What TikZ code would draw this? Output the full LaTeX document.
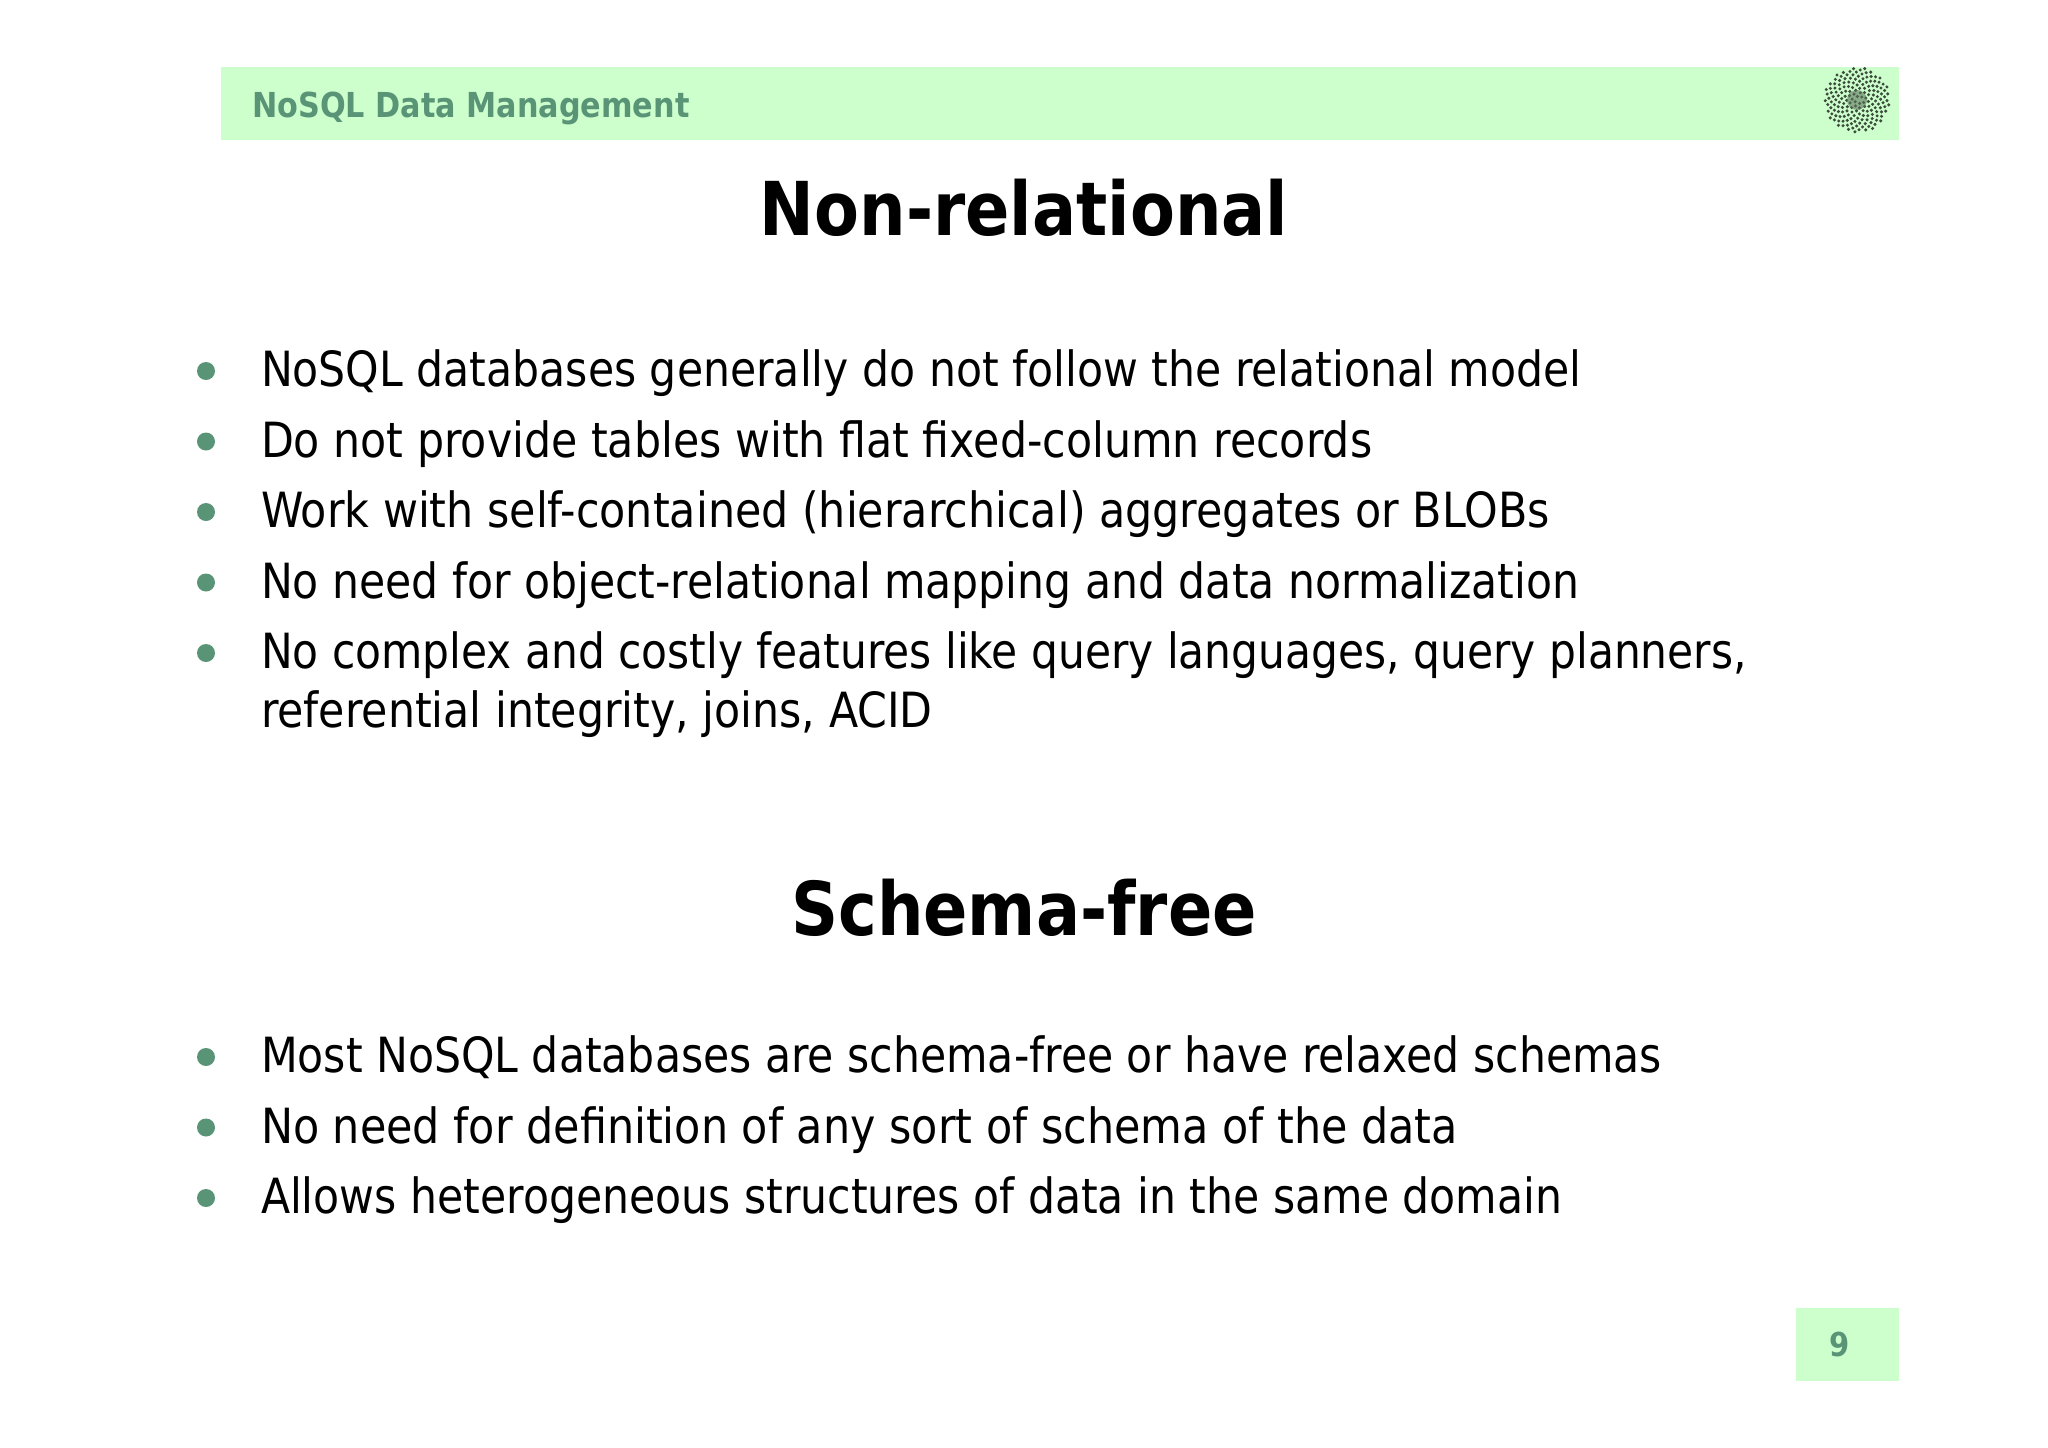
\documentclass[tikz,border=0pt]{standalone}
\usepackage{graphicx}
\usepackage{fontspec}
\setmainfont{DejaVu Sans}[FakeStretch=0.88]
\newfontfamily\bodyfont{DejaVu Sans}[FakeStretch=0.88]
\newfontfamily\headfont{DejaVu Sans Bold}[FakeStretch=0.88]
\definecolor{bandgreen}{HTML}{CCFFCC}
\definecolor{labelgreen}{HTML}{5A9477}
\tikzset{
  x=1pt,y=-1pt,
  band/.style={fill=bandgreen,draw=none},
  body/.style={anchor=base west,inner sep=0pt,outer sep=0pt,text=black,font=\bodyfont\fontsize{48.5}{50}\selectfont},
  title/.style={anchor=base,inner sep=0pt,text=black,font=\headfont\fontsize{74.3}{76}\selectfont},
  header/.style={anchor=base west,inner sep=0pt,text=labelgreen,font=\headfont\fontsize{34.4}{38}\selectfont},
  pagenum/.style={anchor=base,inner sep=0pt,text=labelgreen,font=\headfont\fontsize{33}{36}\selectfont},
  bulletdot/.style={circle,fill=labelgreen,draw=none,minimum size=18pt,inner sep=0pt},
}
\begin{document}
\begin{tikzpicture}
\useasboundingbox (0,0) rectangle (2048,1448);
\fill[white] (0,0) rectangle (2048,1448);
\fill[band] (221,67) rectangle (1899,140);
\fill[band] (1796,1308) rectangle (1899,1381);
\node[header] (hd) at (252,117.5) {NoSQL Data Management};
\node[pagenum] (pg) at (1840,1356) {9};
% logo
\foreach \n in {1,...,170}{
  \pgfmathsetmacro{\rr}{2.5*sqrt(\n)}
  \pgfmathsetmacro{\aa}{10*mod(13.7508*\n,36)}
  \fill[black!70!bandgreen] ({1857+\rr*cos(\aa)},{100+\rr*sin(\aa)}) circle[radius=1.7];
}
\fill[black!55!bandgreen,opacity=0.6] (1857,100) circle[radius=10];
\node[title] (t1) at (1024,235.5) {Non-relational};
\node[title] (t2) at (1024,935.5) {Schema-free};
\foreach \nm/\yy/\sx/\txt in {
 a/386.5/0.998/NoSQL databases generally do not follow the relational model,
 b/457/1.001/Do not provide tables with flat fixed-column records,
 c/527.5/1.003/Work with self-contained (hierarchical) aggregates or BLOBs,
 d/598/0.997/No need for object-relational mapping and data normalization,
 e/668.5/0.993/{No complex and costly features like query languages, query planners,},
 g/1072.5/0.998/Most NoSQL databases are schema-free or have relaxed schemas,
 h/1143/1.005/No need for definition of any sort of schema of the data,
 i/1213.5/0.998/Allows heterogeneous structures of data in the same domain}{
  \node[body] (\nm) at (261,\yy) {\scalebox{\sx}[1]{\txt}};
  \node[bulletdot] (b\nm) at (206,\yy-15.5) {};
}
\node[body] (f) at (261,727.5) {referential integrity, joins, ACID};
\end{tikzpicture}
\end{document}
